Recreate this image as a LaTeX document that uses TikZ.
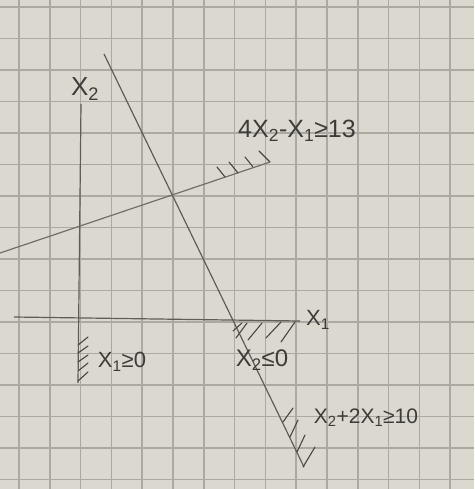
\documentclass[tikz,border=0pt]{standalone}
\usepackage{fontspec}
\setmainfont{Liberation Sans}
\definecolor{paper}{RGB}{219,216,208}
\definecolor{gridline}{RGB}{172,169,162}
\definecolor{lead}{RGB}{96,93,87}

\begin{document}
\begin{tikzpicture}[x=1pt,y=-1pt,
  pencil/.style={lead, line width=1.2pt},
  hatch/.style={lead!75!black, line width=1.1pt, line cap=round},
  lbl/.style={text=lead!65!black, inner sep=0pt}]
  \fill[paper] (0,0) rectangle (474,489);
  \useasboundingbox (0,0) rectangle (474,489);
  \foreach \gx in {0,...,14} \draw[gridline, line width=1.5pt] ({19+30.8*\gx},0) -- ({19+30.8*\gx},489);
  \foreach \gy in {0,...,15} \draw[gridline, line width=1.5pt] (0,{7+31.5*\gy}) -- (474,{7+31.5*\gy});

  \coordinate (xtwotop) at (81,104);
  \coordinate (xtwobot) at (78,383);
  \coordinate (xoneleft) at (14,317);
  \coordinate (xoneright) at (300,321);
  \coordinate (steeptop) at (104,54);
  \coordinate (steepbot) at (304,467);
  \coordinate (flatleft) at (0,253);
  \coordinate (flatright) at (270,162);

  \draw[pencil] (xtwotop) -- (xtwobot);
  \draw[pencil] (xoneleft) -- (xoneright);
  \draw[pencil] (steeptop) -- (steepbot);
  \draw[pencil, lead!85!paper] (flatleft) -- (flatright);

  \foreach \a/\b/\c/\d in {78/345/88/337, 78/353/88/346, 78/362/88/355, 78/371/88/363, 78/381/88/372}
    \draw[hatch] (\a,\b) -- (\c,\d);
  \foreach \a/\b/\c/\d in {233/331/242/323, 236/338/247/323, 248/340/262/323, 266/338/281/322, 281/342/295/322}
    \draw[hatch] (\a,\b) -- (\c,\d);
  \foreach \a/\b/\c/\d in {217/167/225/177, 229/162/238/173, 245/157/253/167, 259/151/270/162}
    \draw[hatch] (\a,\b) -- (\c,\d);
  \foreach \a/\b/\c/\d in {283/422/293/408, 290/437/298/420, 297/452/305/435, 303/467/315/447}
    \draw[hatch] (\a,\b) -- (\c,\d);

  \node[lbl, font=\fontsize{26}{28}\selectfont] (xtwolbl) at (85,89) {X\textsubscript{2}};
  \node[lbl, font=\fontsize{22}{24}\selectfont] (xonelbl) at (318,320) {X\textsubscript{1}};
  \node[lbl, font=\fontsize{25}{27}\selectfont] (flatlbl) at (297,131) {4X\textsubscript{2}-X\textsubscript{1}≥13};
  \node[lbl, font=\fontsize{24}{26}\selectfont] (xtwoneg) at (262,360) {X\textsubscript{2}≤0};
  \node[lbl, font=\fontsize{22}{24}\selectfont] (xonepos) at (122,362) {X\textsubscript{1}≥0};
  \node[lbl, font=\fontsize{21}{23}\selectfont] (steeplbl) at (366,418) {X\textsubscript{2}+2X\textsubscript{1}≥10};
\end{tikzpicture}
\end{document}
